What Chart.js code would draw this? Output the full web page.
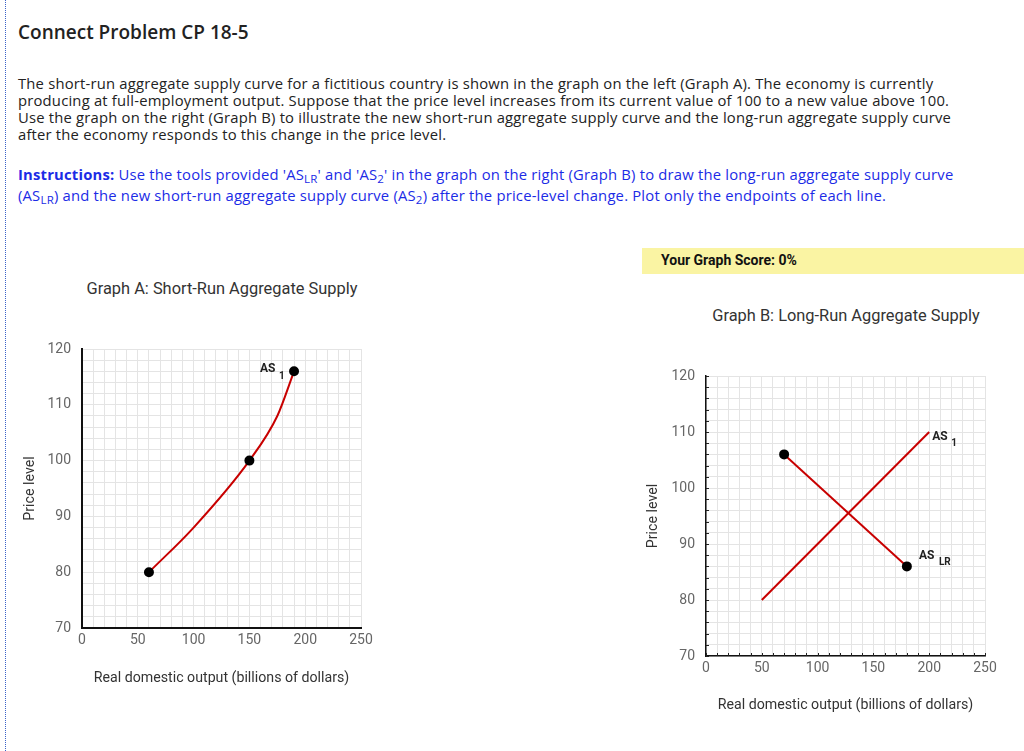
<!DOCTYPE html>
<html>
<head>
<meta charset="utf-8">
<script src="https://cdn.jsdelivr.net/npm/chart.js@4.4.1/dist/chart.umd.min.js"></script>
<style>
  body { margin: 0; width: 1024px; height: 751px; background: #fff; position: relative; overflow: hidden; font-family: "Open Sans", Lato, sans-serif; }
  #frame { position: absolute; left: 5px; top: 0; height: 751px; border-left: 1px dotted #3a62c8; }
  h1 { position: absolute; left: 18px; top: 19px; margin: 0; font-size: 19px; font-weight: 600; color: #222; }
  .para { position: absolute; left: 18px; top: 75px; margin: 0; font-size: 14.8px; line-height: 17px; color: #222; letter-spacing: 0.2px; }
  .instr { position: absolute; left: 18px; top: 164px; margin: 0; font-size: 14.8px; line-height: 21px; color: #1b2be6; letter-spacing: 0.2px; }
  .instr sub { font-size: 11.5px; vertical-align: -3px; line-height: 0; }
  #score { position: absolute; left: 642px; top: 248px; width: 382px; height: 26px; background: #faf4a3; }
  #score span { position: absolute; left: 19px; top: 4px; font-family: Roboto, sans-serif; font-weight: bold; font-size: 14px; color: #111; }
  .gtitle { position: absolute; width: 400px; margin-left: -200px; text-align: center; font-family: Roboto, sans-serif; font-size: 16.4px; color: #333; line-height: 20px; }
  #wrapA { position: absolute; left: 10px; top: 265px; width: 380px; height: 430px; }
  #wrapB { position: absolute; left: 630px; top: 290px; width: 384px; height: 440px; }
</style>
</head>
<body>
<div id="frame"></div>
<h1>Connect Problem CP 18-5</h1>
<p class="para">The short-run aggregate supply curve for a fictitious country is shown in the graph on the left (Graph A). The economy is currently<br>producing at full-employment output. Suppose that the price level increases from its current value of 100 to a new value above 100.<br>Use the graph on the right (Graph B) to illustrate the new short-run aggregate supply curve and the long-run aggregate supply curve<br>after the economy responds to this change in the price level.</p>
<p class="instr"><b>Instructions:</b> Use the tools provided 'AS<sub>LR</sub>' and 'AS<sub>2</sub>' in the graph on the right (Graph B) to draw the long-run aggregate supply curve<br>(AS<sub>LR</sub>) and the new short-run aggregate supply curve (AS<sub>2</sub>) after the price-level change. Plot only the endpoints of each line.</p>
<div id="score"><span>Your Graph Score: 0%</span></div>
<div class="gtitle" style="left:222px; top:279px;">Graph A: Short-Run Aggregate Supply</div>
<div class="gtitle" style="left:846px; top:306px;">Graph B: Long-Run Aggregate Supply</div>
<div id="wrapA"><canvas id="chartA"></canvas></div>
<div id="wrapB"><canvas id="chartB"></canvas></div>

<script>
// axis ranges and tick labels (same for both graphs)
const xTickLabels = [0, 50, 100, 150, 200, 250];
const yTickLabels = [70, 80, 90, 100, 110, 120];

// Graph A: short-run AS curve (dots at 60, 150, 190)
const asOneX = [60, 100, 150, 175, 190];
const asOneY = [80, 88, 100, 108, 116];
const asOneDots = [true, false, true, false, true];

// Graph B: AS1 line and the ASLR line endpoints
const bAsOneX = [50, 200];
const bAsOneY = [80, 110];
const bAsLrX = [70, 180];
const bAsLrY = [106, 86];

const red = '#c80000';

function toPoints(xs, ys) {
  return xs.map((x, i) => ({ x: x, y: ys[i] }));
}

// labels like "AS 1" drawn next to an end point of a dataset
const curveLabels = {
  id: 'curveLabels',
  afterDatasetsDraw(chart, args, opts) {
    const ctx = chart.ctx;
    ctx.save();
    ctx.fillStyle = '#222';
    ctx.textBaseline = 'middle';
    opts.items.forEach((it) => {
      const meta = chart.getDatasetMeta(it.dataset);
      const pt = meta.data[it.index];
      ctx.font = 'bold 12px Roboto, sans-serif';
      ctx.textAlign = 'left';
      ctx.fillText('AS', pt.x + it.dx, pt.y + it.dy);
      ctx.font = 'bold 10px Roboto, sans-serif';
      ctx.fillText(it.sub, pt.x + it.sx, pt.y + it.sy);
    });
    ctx.restore();
  }
};

// short inward tick marks on the axes (graph B)
const innerTicks = {
  id: 'innerTicks',
  afterDraw(chart, args, opts) {
    if (!opts.show) return;
    const ctx = chart.ctx;
    const xs = chart.scales.x, ys = chart.scales.y;
    const a = chart.chartArea;
    ctx.save();
    ctx.strokeStyle = '#222';
    ctx.lineWidth = 1;
    ctx.beginPath();
    xs.ticks.forEach((t) => {
      const px = Math.round(xs.getPixelForValue(t.value)) + 0.5;
      ctx.moveTo(px, a.bottom);
      ctx.lineTo(px, a.bottom - 3);
    });
    ys.ticks.forEach((t) => {
      const py = Math.round(ys.getPixelForValue(t.value)) + 0.5;
      ctx.moveTo(a.left, py);
      ctx.lineTo(a.left + 3, py);
    });
    ctx.stroke();
    ctx.restore();
  }
};

function axisOptions(cfg) {
  return {
    x: {
      type: 'linear', min: 0, max: 250,
      afterFit: (s) => { s.height = cfg.xHeight; },
      ticks: {
        stepSize: 10, autoSkip: false, maxRotation: 0, padding: 4,
        color: '#666', font: { family: 'Roboto', size: 14 },
        callback: (v) => xTickLabels.includes(v) ? String(v) : ''
      },
      grid: { color: '#e4e4e4', lineWidth: 1, drawTicks: false },
      border: { color: '#111', width: cfg.axisWidth },
      title: {
        display: true, text: 'Real domestic output (billions of dollars)',
        color: '#333', font: { family: 'Roboto', size: 14.2 },
        padding: { top: 0, bottom: cfg.xTitlePad }
      }
    },
    y: {
      type: 'linear', min: 70, max: 120,
      afterFit: (s) => { s.width = cfg.yWidth; },
      ticks: {
        stepSize: 2, autoSkip: false, padding: 11,
        color: '#666', font: { family: 'Roboto', size: 14 },
        callback: (v) => yTickLabels.includes(v) ? String(v) : ''
      },
      grid: { color: '#e4e4e4', lineWidth: 1, drawTicks: false },
      border: { color: '#111', width: cfg.axisWidth },
      title: {
        display: true, text: 'Price level',
        color: '#333', font: { family: 'Roboto', size: 14.2 },
        padding: { top: cfg.yTitlePad, bottom: 0 }
      }
    }
  };
}

new Chart(document.getElementById('chartA'), {
  type: 'line',
  data: {
    datasets: [{
      data: toPoints(asOneX, asOneY),
      borderColor: red, borderWidth: 2,
      cubicInterpolationMode: 'monotone',
      pointRadius: asOneDots.map((d) => d ? 4 : 0),
      pointBackgroundColor: '#000', pointBorderColor: '#000'
    }]
  },
  options: {
    responsive: true, maintainAspectRatio: false, animation: false,
    layout: { padding: { left: 0, right: 29, top: 84, bottom: 0 } },
    scales: axisOptions({ xHeight: 67, yWidth: 72, xTitlePad: 8, yTitlePad: 12, axisWidth: 2 }),
    plugins: {
      legend: { display: false }, tooltip: { enabled: false },
      curveLabels: { items: [{ dataset: 0, index: 4, dx: -34, dy: -2, sx: -15, sy: 5, sub: '1' }] },
      innerTicks: { show: false }
    }
  },
  plugins: [curveLabels, innerTicks]
});

new Chart(document.getElementById('chartB'), {
  type: 'line',
  data: {
    datasets: [{
      data: toPoints(bAsOneX, bAsOneY),
      borderColor: red, borderWidth: 2, pointRadius: 0
    }, {
      data: toPoints(bAsLrX, bAsLrY),
      borderColor: red, borderWidth: 2,
      pointRadius: 4, pointBackgroundColor: '#000', pointBorderColor: '#000'
    }]
  },
  options: {
    responsive: true, maintainAspectRatio: false, animation: false,
    layout: { padding: { left: 0, right: 29, top: 86, bottom: 0 } },
    scales: axisOptions({ xHeight: 74, yWidth: 76, xTitlePad: 16, yTitlePad: 15, axisWidth: 1.5 }),
    plugins: {
      legend: { display: false }, tooltip: { enabled: false },
      curveLabels: { items: [
        { dataset: 0, index: 1, dx: 3, dy: 5, sx: 22, sy: 11, sub: '1' },
        { dataset: 1, index: 1, dx: 12, dy: -10, sx: 32, sy: -4, sub: 'LR' }
      ] },
      innerTicks: { show: true }
    }
  },
  plugins: [curveLabels, innerTicks]
});
</script>
</body>
</html>
